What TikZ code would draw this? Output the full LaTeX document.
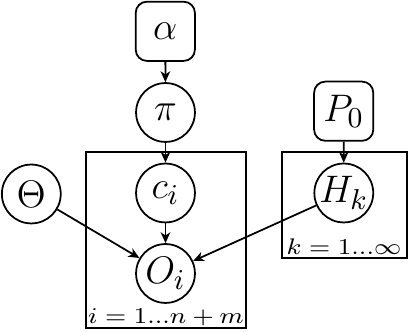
\documentclass[tikz,border=0pt]{standalone}
\usetikzlibrary{arrows.meta}
\begin{document}
\begin{tikzpicture}[x=0.3125pt,y=-0.3125pt, line width=0.55pt,
  var/.style={circle, draw, minimum size=18.4pt, inner sep=0pt, font=\fontsize{12.5}{14}\selectfont},
  hyper/.style={rectangle, rounded corners=3.5pt, draw, minimum size=18.5pt, inner sep=0pt, font=\fontsize{12.5}{14}\selectfont},
  plate/.style={draw, rectangle, inner sep=0pt},
  platelabel/.style={inner sep=0pt, font=\fontsize{8}{10}\selectfont},
  edge/.style={-{Stealth[length=3.4pt,width=3pt,inset=1pt]}}]
\useasboundingbox (0,0) rectangle (410,332);
% plates
\node[plate, minimum width=50pt, minimum height=55pt] (P1) at (165.7,240.3) {};
\node[plate, minimum width=39.25pt, minimum height=33.1pt] (P2) at (344.5,205.3) {};
% variables
\node[hyper] (alpha) at (165.3,31.3) {$\alpha$};
\node[var] (pi) at (165.5,112.5) {$\pi$};
\node[var] (ci) at (165.5,193) {$c_i$};
\node[var] (Oi) at (165.5,273.5) {$O_i$};
\node[var] (Theta) at (31.3,194) {$\Theta$};
\node[hyper] (P0) at (343.7,111.2) {$P_0$};
\node[var] (Hk) at (343.8,193) {$H_k$};
% plate labels
\node[platelabel] (L1) at (166,317) {\scalebox{1}[0.88]{$i=1...n+m$}};
\node[platelabel] (L2) at (344,247) {\scalebox{1}[0.88]{$k=1...\infty$}};
% edges
\draw[edge] (alpha) -- (pi);
\draw[edge] (pi) -- (ci);
\draw[edge] (ci) -- (Oi);
\draw[edge] (Theta) -- (Oi);
\draw[edge] (Hk) -- (Oi);
\draw[edge] (P0) -- (Hk);
\end{tikzpicture}
\end{document}
